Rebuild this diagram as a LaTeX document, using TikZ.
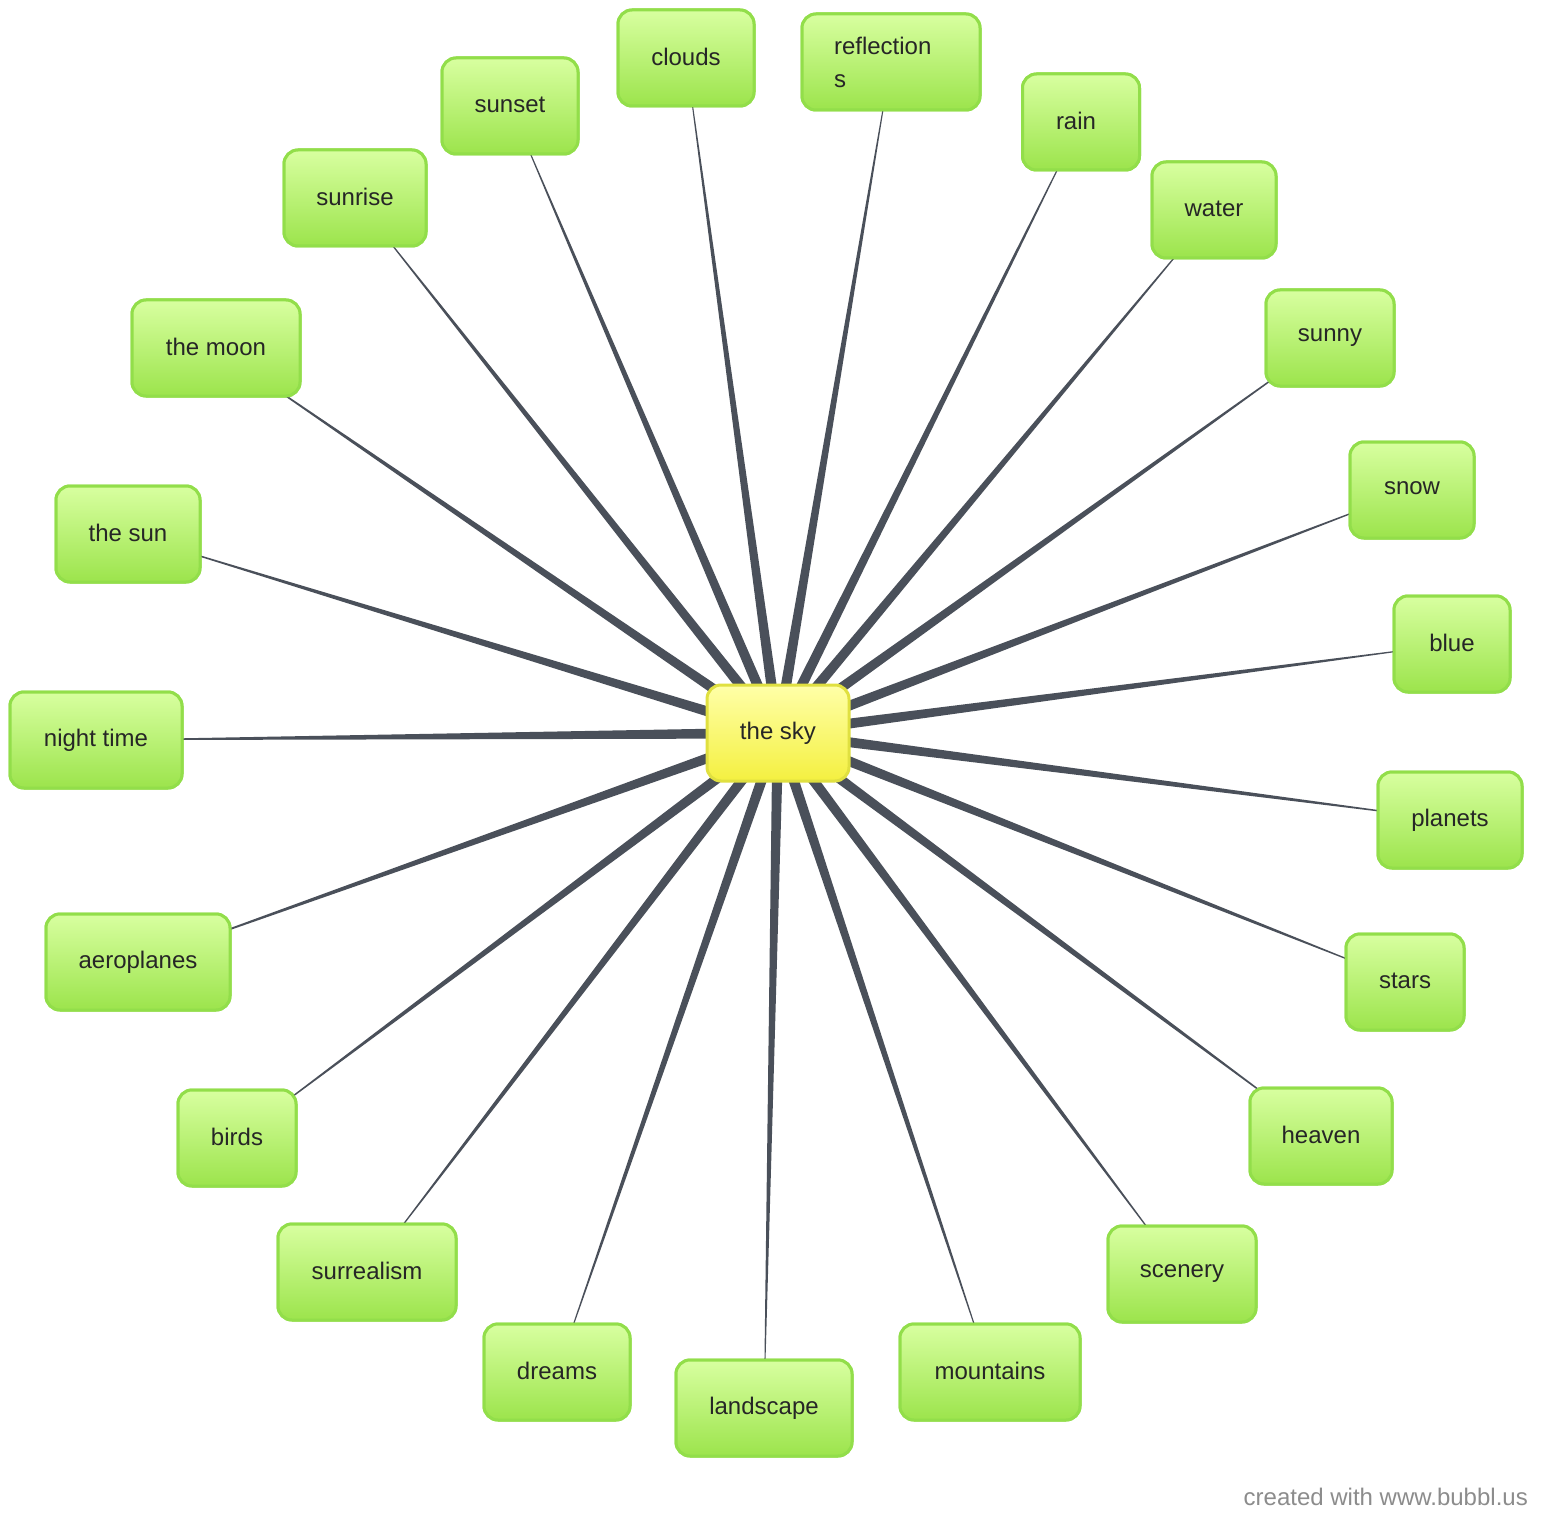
\documentclass[tikz,border=0pt]{standalone}
\usepackage{fontspec}
\setmainfont{Liberation Sans}
\usetikzlibrary{calc}
\definecolor{edgec}{HTML}{4A505A}
\definecolor{gtop}{HTML}{D8FFA0}
\definecolor{gbot}{HTML}{9CE44C}
\definecolor{gbord}{HTML}{92DE4A}
\definecolor{ytop}{HTML}{FFFFA8}
\definecolor{ybot}{HTML}{F4F040}
\definecolor{ybord}{HTML}{E0E040}
\begin{document}
\begin{tikzpicture}[x=1pt,y=-1pt,
  leaf/.style={rounded corners=14pt,draw=gbord,line width=3pt,top color=gtop,bottom color=gbot,
    font=\fontsize{24}{27}\selectfont,text=black!85},
  hub/.style={rounded corners=14pt,draw=ybord,line width=3pt,top color=ytop,bottom color=ybot,
    font=\fontsize{24}{27}\selectfont,text=black!85}]
\useasboundingbox[fill=white] (0,0) rectangle (1548,1530);
\def\L#1#2#3#4#5#6{\node[leaf,minimum width=#4pt,minimum height=#5pt,inner sep=0pt] (#1) at (#2,#3) {\raisebox{3pt}{#6}};}
\def\LEAVES{%
\L{clouds}{686}{58}{136}{96}{clouds}
\node[leaf,minimum width=178pt,minimum height=96pt,inner sep=0pt,align=left] (refl) at (891,62) {reflection\\[6pt]s\hspace*{102pt}};
\L{sunset}{510}{106}{136}{96}{sunset}
\L{rain}{1081}{122}{117}{96}{rain\hspace*{10pt}}
\L{sunrise}{355}{198}{142}{96}{sunrise}
\L{water}{1214}{210}{124}{96}{water}
\L{sunny}{1330}{338}{128}{96}{sunny}
\L{moon}{216}{348}{168}{96}{the moon}
\L{snow}{1412}{490}{124}{96}{snow}
\L{sun}{128}{534}{144}{96}{the sun}
\L{blue}{1452}{644}{116}{96}{blue}
\L{night}{96}{740}{172}{96}{night time}
\L{planets}{1450}{820}{144}{96}{planets}
\L{aero}{138}{962}{184}{96}{aeroplanes}
\L{stars}{1405}{982}{118}{96}{stars}
\L{birds}{237}{1138}{118}{96}{birds}
\L{heaven}{1321}{1136}{142}{96}{heaven}
\L{surr}{367}{1272}{178}{96}{surrealism}
\L{scenery}{1182}{1274}{148}{96}{scenery}
\L{dreams}{557}{1372}{146}{96}{dreams}
\L{land}{764}{1408}{176}{96}{landscape}
\L{mount}{990}{1372}{180}{96}{mountains}}
\LEAVES
\coordinate (c) at (778,733);
\foreach \n in {clouds,refl,sunset,rain,sunrise,water,sunny,moon,snow,sun,blue,night,planets,aero,stars,birds,heaven,surr,scenery,dreams,land,mount}{
  \fill[edgec] ($(c)!5.5pt!90:(\n)$) -- ($(\n)!0.15pt!-90:(c)$) -- ($(\n)!0.15pt!90:(c)$) -- ($(c)!5.5pt!-90:(\n)$) -- cycle;
}
\LEAVES
\node[hub,minimum width=142pt,minimum height=96pt,inner sep=0pt] (sky) at (c) {\raisebox{3pt}{the sky}};
\node[anchor=south east,inner sep=0pt,text=black!45,font=\fontsize{24}{27}\selectfont] (credit) at (1528,1506) {created with www.bubbl.us};
\end{tikzpicture}
\end{document}
